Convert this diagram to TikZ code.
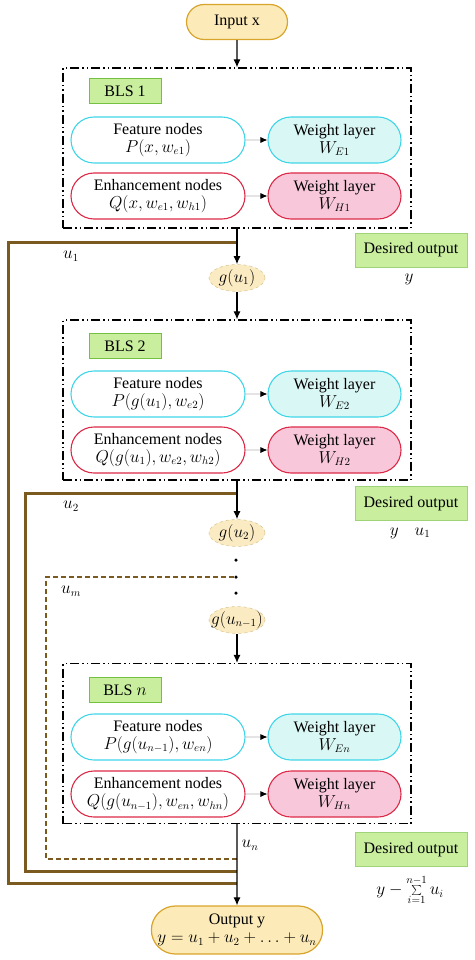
\documentclass[tikz,border=0pt]{standalone}
\usepackage{fontspec}
\setmainfont{Liberation Serif}
\usetikzlibrary{shapes.misc,shapes.geometric,arrows.meta}
\definecolor{fcyan}{HTML}{40D6E8}
\definecolor{wcyan}{HTML}{D9F7F4}
\definecolor{ered}{HTML}{DD2A48}
\definecolor{wpink}{HTML}{F8C8DA}
\definecolor{gfill}{HTML}{C8EE9E}
\definecolor{gborder}{HTML}{74C040}
\definecolor{iofill}{HTML}{FCEBB8}
\definecolor{ioborder}{HTML}{D8A42C}
\definecolor{efill}{HTML}{FBEBC2}
\definecolor{eborder}{HTML}{DCC898}
\definecolor{brownl}{HTML}{7A5A1E}
\newcommand{\fixw}[1]{\makebox[0pt]{#1}}
\begin{document}
\begin{tikzpicture}[x=1pt,y=-1pt,font=\fontsize{16}{18}\selectfont,
  pill/.style={rounded rectangle, draw, line width=1.1pt, align=center, inner sep=0pt},
  feat/.style={pill, draw=fcyan, fill=white, minimum width=174pt, minimum height=46pt},
  wgtF/.style={pill, draw=fcyan, fill=wcyan, minimum width=133pt, minimum height=46pt},
  enh/.style={pill, draw=ered, fill=white, minimum width=174pt, minimum height=46pt},
  wgtH/.style={pill, draw=ered, fill=wpink, minimum width=133pt, minimum height=46pt},
  lbl/.style={draw=gborder, fill=gfill, line width=1pt, minimum width=72pt, minimum height=25pt, inner sep=0pt},
  desired/.style={draw=gborder!70, fill=gfill, line width=1pt, minimum width=112pt, minimum height=34pt, inner sep=0pt},
  gnode/.style={ellipse, draw=eborder, dashed, line width=0.6pt, fill=efill, minimum width=56pt, minimum height=27pt, inner sep=0pt},
  io/.style={pill, draw=ioborder, fill=iofill, line width=1.2pt},
  blsbox/.style={draw, line width=1.3pt, dash pattern=on 9pt off 3pt on 1.5pt off 3pt on 1.5pt off 3pt, minimum width=348pt, minimum height=160pt, inner sep=0pt},
  fb/.style={draw=brownl, line width=3pt},
  fbd/.style={draw=brownl, line width=2.5pt, dash pattern=on 5pt off 3pt},
  arr/.style={-{Latex[length=8pt,width=7pt]}, line width=1.1pt},
  inarr/.style={draw=gray!60, line width=0.8pt, -{Latex[length=7pt,width=6pt,color=black]}},
  dotn/.style={circle, fill=black, inner sep=0pt, minimum size=3.5pt},
  plain/.style={inner sep=0pt}
]
\useasboundingbox (0,0) rectangle (474,960);

% input
\node[io, minimum width=101pt, minimum height=35pt] (inp) at (237,22) {Input x};

% BLS 1
\node[blsbox] (box1) at (237,148) {};
\node[lbl] (bls1) at (125,91.5) {BLS 1};
\node[feat] (f1) at (158,140) {Feature nodes\\$P(x,w_{e1})$};
\node[wgtF] (w1) at (334.5,140) {Weight layer\\$W_{E1}$};
\node[enh] (e1) at (158,196) {Enhancement nodes\\$Q(x,w_{e1},w_{h1})$};
\node[wgtH] (h1) at (334.5,196) {Weight layer\\$W_{H1}$};
\draw[inarr] (f1) -- (w1);
\draw[inarr] (e1) -- (h1);

\node[gnode] (g1) at (237,278) {\fixw{$g(u_1)$}};
\node[desired] (des1) at (411,250) {Desired output};
\node[plain] (y1) at (409,279) {$y$};

% BLS 2
\node[blsbox] (box2) at (237,400) {};
\node[lbl] (bls2) at (125,346) {BLS 2};
\node[feat] (f2) at (158,394) {Feature nodes\\$P(g(u_1),w_{e2})$};
\node[wgtF] (w2) at (334.5,394) {Weight layer\\$W_{E2}$};
\node[enh] (e2) at (158,450) {Enhancement nodes\\$Q(g(u_1),w_{e2},w_{h2})$};
\node[wgtH] (h2) at (334.5,450) {Weight layer\\$W_{H2}$};
\draw[inarr] (f2) -- (w2);
\draw[inarr] (e2) -- (h2);

\node[gnode] (g2) at (237,533) {\fixw{$g(u_2)$}};
\node[desired] (des2) at (411,503.5) {Desired output};
\node[plain] (y2) at (410,533) {$y\quad u_1$};

% dots
\node[dotn] (d1) at (236,560) {};
\node[dotn] (d2) at (236,577) {};
\node[dotn] (d3) at (236,593) {};

\node[gnode] (g3) at (237,620) {\fixw{$g(u_{n-1})$}};

% BLS n
\node[blsbox] (box3) at (237,743.5) {};
\node[lbl] (bls3) at (125,690) {BLS $n$};
\node[feat] (f3) at (158,737) {Feature nodes\\$P(g(u_{n-1}),w_{en})$};
\node[wgtF] (w3) at (334.5,737) {Weight layer\\$W_{En}$};
\node[enh] (e3) at (158,794) {Enhancement nodes\\$Q(g(u_{n-1}),w_{en},w_{hn})$};
\node[wgtH] (h3) at (334.5,794) {Weight layer\\$W_{Hn}$};
\draw[inarr] (f3) -- (w3);
\draw[inarr] (e3) -- (h3);

\node[desired] (des3) at (411,849.5) {Desired output};
\node[plain] (y3) at (410,890) {$y-\textstyle\sum\limits_{i=1}^{n-1}u_i$};

% output
\node[io, minimum width=147pt, minimum height=48pt] (out) at (237,930) {Output y\\$y=u_1+u_2+\ldots+u_n$};

% junction coordinates
\coordinate (j1) at (237,242);
\coordinate (j2) at (237,493);
\coordinate (m1) at (237,883);
\coordinate (m2) at (237,871);
\coordinate (m3) at (237,859);

% feedback lines
\draw[fb] (j1) -- (8,242) |- (m1);
\draw[fb] (j2) -- (25,493) |- (m2);
\draw[fbd] (d2) -- (46,577) |- (m3);

% main arrows
\draw[arr] (inp) -- (box1.north);
\draw[arr] (box1.south) -- (g1);
\draw[arr] (g1) -- (box2.north);
\draw[arr] (box2.south) -- (g2);
\draw[arr] (g3) -- (box3.north);
\draw[arr] (box3.south) -- (out);

% labels
\node[plain] (lu1) at (71,256) {$u_1$};
\node[plain] (lu2) at (71,506) {$u_2$};
\node[plain] (lum) at (71,591) {$u_m$};
\node[plain] (lun) at (250,845) {$u_n$};
\end{tikzpicture}
\end{document}
